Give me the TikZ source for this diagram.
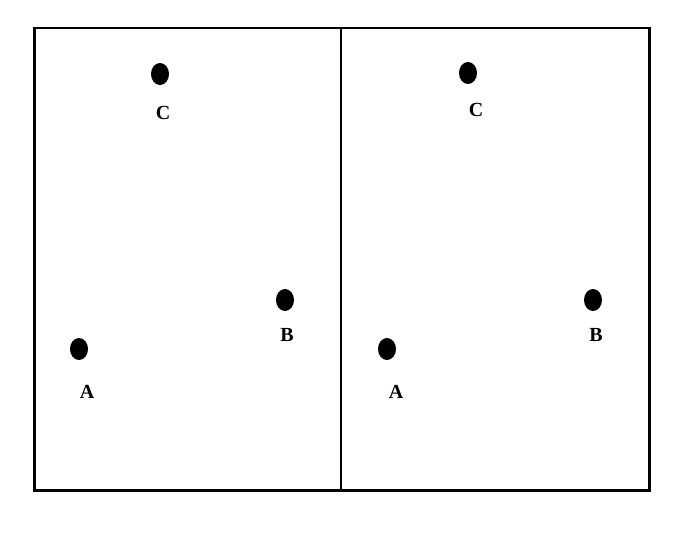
\documentclass[tikz,border=0pt]{standalone}
\usepackage{fontspec}
\setmainfont{Liberation Serif}
\usetikzlibrary{shapes.geometric}
\begin{document}
\begin{tikzpicture}[x=1pt,y=-1pt,
  frame/.style={line width=2.5pt},
  dot/.style={ellipse,fill=black,minimum width=18pt,minimum height=22pt,inner sep=0pt},
  lbl/.style={font=\bfseries\fontsize{20}{23}\selectfont,inner sep=0pt}]
\useasboundingbox (0,0) rectangle (689,540);
\node[frame,draw,minimum width=615pt,minimum height=462pt,inner sep=0pt,anchor=north west] (box) at (33,27) {};
\coordinate (dtop) at (341,27);
\coordinate (dbot) at (341,489);
\draw[frame] (dtop) -- (dbot);
% left panel
\node[dot] (C1) at (160,74) {};
\node[dot] (B1) at (285,300) {};
\node[dot] (A1) at (79,349) {};
\node[lbl] (lC1) at (163,113) {C};
\node[lbl] (lB1) at (287,335) {B};
\node[lbl] (lA1) at (87,392) {A};
% right panel
\node[dot] (C2) at (468,73) {};
\node[dot] (B2) at (593,300) {};
\node[dot] (A2) at (387,349) {};
\node[lbl] (lC2) at (476,110) {C};
\node[lbl] (lB2) at (596,335) {B};
\node[lbl] (lA2) at (396,392) {A};
\end{tikzpicture}
\end{document}
